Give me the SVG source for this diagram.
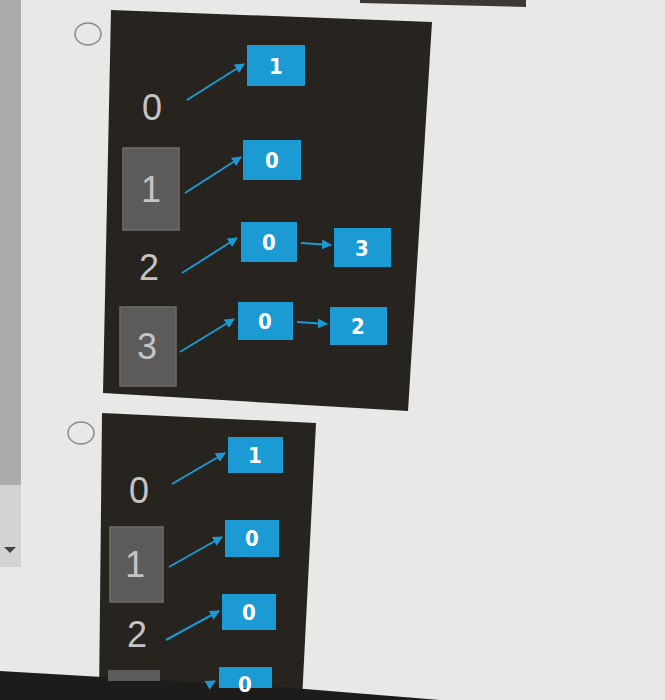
<svg xmlns="http://www.w3.org/2000/svg" width="665" height="700" viewBox="0 0 665 700">
<defs>
<style>
.bg{fill:#e8e8e6}
.panel{fill:#27231f}
.box{fill:#1b9ad4}
.bt{font-family:"DejaVu Sans Condensed","Liberation Sans Narrow",sans-serif;font-weight:bold;font-size:22px;fill:#ffffff;text-anchor:middle}
.lbl{font-family:"Liberation Sans","Noto Sans",sans-serif;font-size:36px;fill:#c4c4c4;text-anchor:middle}
.gbox{fill:#5c5b59;stroke:#6e6d6b;stroke-width:1.5}
.ar{stroke:#1b9ad4;stroke-width:2;fill:none;marker-end:url(#ah)}
.radio{fill:none;stroke:#8a8a8a;stroke-width:1.5}
</style>
<marker id="ah" viewBox="0 0 10 10" refX="9" refY="5" markerWidth="5" markerHeight="5" orient="auto-start-reverse" markerUnits="strokeWidth">
<path d="M0,0 L10,5 L0,10 z" fill="#1b9ad4"/>
</marker>
</defs>
<rect class="bg" x="0" y="0" width="665" height="700"/>
<rect x="0" y="0" width="21" height="485" fill="#ababab"/>
<rect x="0" y="485" width="21" height="82" fill="#d3d3d3"/>
<path d="M4,547 L16,547 L10,553 z" fill="#444"/>
<path d="M360,0 L526,0 L526,7 L360,3 z" fill="#3d3835"/>
<ellipse class="radio" cx="88" cy="34" rx="13" ry="11"/>
<ellipse class="radio" cx="81" cy="433" rx="13" ry="11"/>

<g id="panel-top">
<path class="panel" d="M111,10 L432,22 L408,411 L103,393 z"/>
</g>
<g id="panel-bottom">
<path class="panel" d="M102,413 L316,423 L302,700 L99,700 z"/>
</g>
<path d="M0,671 L305,689 L440,700 L0,700 z" fill="#1e1c1a"/>

<g id="top-index">
<g id="t-i0"><text class="lbl" x="152" y="120">0</text></g>
<g id="t-i1"><rect class="gbox" x="123" y="148" width="56" height="82"/><text class="lbl" x="151" y="202">1</text></g>
<g id="t-i2"><text class="lbl" x="149" y="280">2</text></g>
<g id="t-i3"><rect class="gbox" x="120" y="307" width="56" height="79"/><text class="lbl" x="147" y="359">3</text></g>
</g>
<g id="top-nodes">
<g id="t-n0"><rect class="box" x="247" y="45" width="58" height="41"/><text class="bt" x="276" y="74">1</text></g>
<g id="t-n1"><rect class="box" x="243" y="140" width="58" height="40"/><text class="bt" x="272" y="168">0</text></g>
<g id="t-n2a"><rect class="box" x="241" y="222" width="56" height="40"/><text class="bt" x="269" y="250">0</text></g>
<g id="t-n2b"><rect class="box" x="334" y="228" width="57" height="39"/><text class="bt" x="362" y="256">3</text></g>
<g id="t-n3a"><rect class="box" x="238" y="302" width="55" height="38"/><text class="bt" x="265" y="329">0</text></g>
<g id="t-n3b"><rect class="box" x="330" y="307" width="57" height="38"/><text class="bt" x="358" y="334">2</text></g>
</g>

<g id="bottom-index">
<g id="b-i0"><text class="lbl" x="139" y="503">0</text></g>
<g id="b-i1"><rect class="gbox" x="110" y="527" width="53" height="75"/><text class="lbl" x="135" y="577">1</text></g>
<g id="b-i2"><text class="lbl" x="137" y="647">2</text></g>
<g id="b-i3"><rect x="108" y="670" width="52" height="11" fill="#5c5b59"/></g>
</g>
<g id="bottom-nodes">
<g id="b-n0"><rect class="box" x="228" y="437" width="55" height="36"/><text class="bt" x="255" y="463">1</text></g>
<g id="b-n1"><rect class="box" x="225" y="520" width="54" height="37"/><text class="bt" x="252" y="546">0</text></g>
<g id="b-n2"><rect class="box" x="222" y="594" width="54" height="36"/><text class="bt" x="249" y="620">0</text></g>
<g id="b-n3"><rect class="box" x="219" y="667" width="53" height="21"/><text class="bt" x="245" y="692">0</text></g>
</g>

<g id="connectors">
<line class="ar" x1="187" y1="100" x2="244" y2="64"/>
<line class="ar" x1="185" y1="193" x2="241" y2="157"/>
<line class="ar" x1="182" y1="273" x2="237" y2="238"/>
<line class="ar" x1="180" y1="352" x2="234" y2="319"/>
<line class="ar" x1="301" y1="243" x2="331" y2="245"/>
<line class="ar" x1="297" y1="322" x2="327" y2="324"/>
<line class="ar" x1="172" y1="484" x2="225" y2="453"/>
<line class="ar" x1="169" y1="567" x2="222" y2="537"/>
<line class="ar" x1="166" y1="640" x2="219" y2="611"/>
<line class="ar" x1="208" y1="685" x2="215" y2="681"/>
</g>
</svg>
